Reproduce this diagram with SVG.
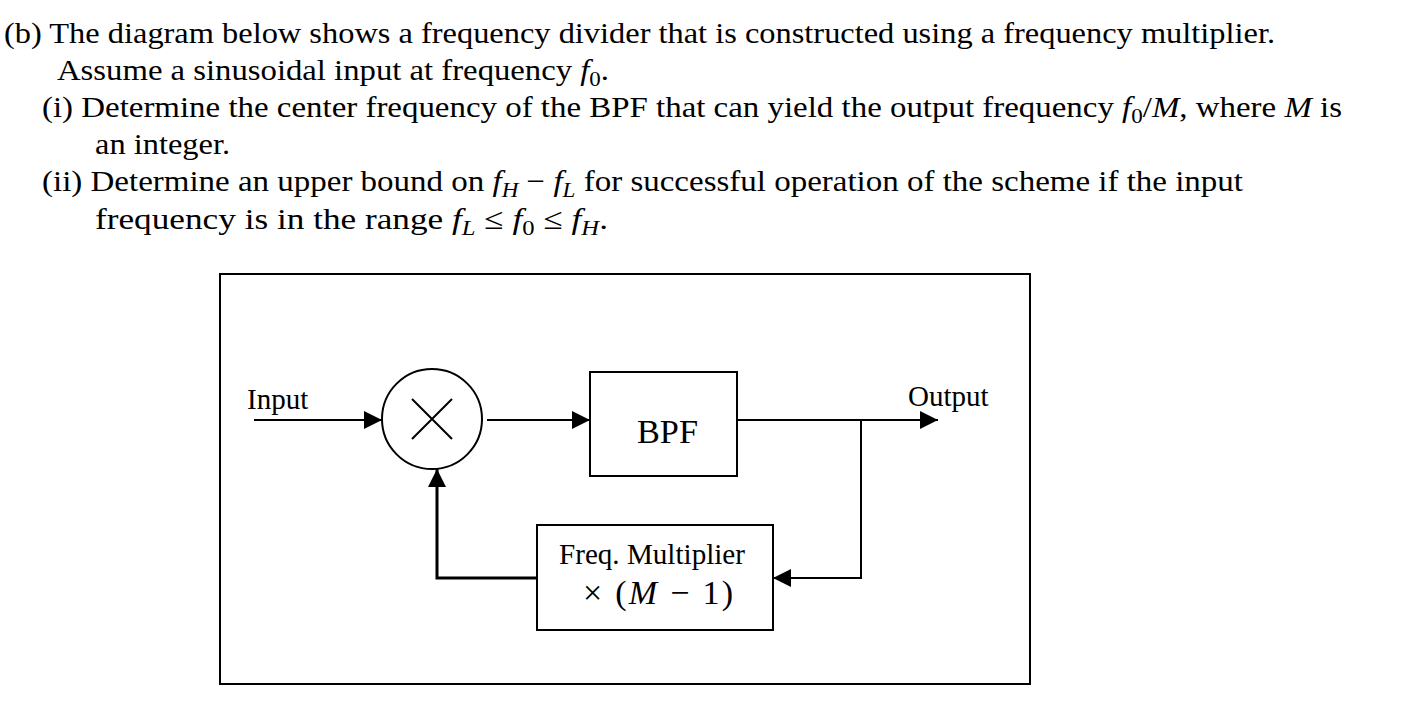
<svg xmlns="http://www.w3.org/2000/svg" width="1401" height="706" viewBox="0 0 1401 706">
<style>
text{font-family:"Liberation Serif","Times New Roman",serif;fill:#000}
.q{font-size:30px}
.i{font-style:italic}
.d{font-size:29px}
.ln{stroke:#000;stroke-width:2;fill:none}
.bx{stroke:#000;stroke-width:2;fill:#fff}
</style>
<defs>
<marker id="ah" viewBox="0 0 10 10" refX="10" refY="5" markerWidth="18" markerHeight="18" markerUnits="userSpaceOnUse" orient="auto"><path d="M0,0L10,5L0,10z" fill="#000"/></marker>
</defs>
<rect width="1401" height="706" fill="#fff"/>
<g id="question">
<text class="q" x="4" y="43" textLength="1271" lengthAdjust="spacingAndGlyphs">(b) The diagram below shows a frequency divider that is constructed using a frequency multiplier.</text>
<text class="q" x="57" y="80" textLength="552" lengthAdjust="spacingAndGlyphs">Assume a sinusoidal input at frequency <tspan class="i">f</tspan><tspan font-size="21" dy="6">0</tspan><tspan dy="-6">.</tspan></text>
<text class="q" x="42" y="117" textLength="1300" lengthAdjust="spacingAndGlyphs">(i) Determine the center frequency of the BPF that can yield the output frequency <tspan class="i">f</tspan><tspan font-size="21" dy="6">0</tspan><tspan dy="-6">/</tspan><tspan class="i">M</tspan>, where <tspan class="i">M</tspan> is</text>
<text class="q" x="95" y="154" textLength="135" lengthAdjust="spacingAndGlyphs">an integer.</text>
<text class="q" x="42" y="191" textLength="1201" lengthAdjust="spacingAndGlyphs">(ii) Determine an upper bound on  <tspan class="i">f</tspan><tspan class="i" font-size="21" dy="6">H</tspan><tspan dy="-6"> − </tspan><tspan class="i">f</tspan><tspan class="i" font-size="21" dy="6">L</tspan><tspan dy="-6"> for successful operation of the scheme if the input</tspan></text>
<text class="q" x="95" y="229" textLength="513" lengthAdjust="spacingAndGlyphs">frequency is in the range  <tspan class="i">f</tspan><tspan class="i" font-size="21" dy="6">L</tspan><tspan dy="-6"> ≤ </tspan><tspan class="i">f</tspan><tspan font-size="21" dy="6">0</tspan><tspan dy="-6"> ≤ </tspan><tspan class="i">f</tspan><tspan class="i" font-size="21" dy="6">H</tspan><tspan dy="-6">.</tspan></text>
</g>
<rect x="220" y="274" width="810" height="410" class="ln"/>
<g id="connectors">
<line x1="254" y1="420" x2="382" y2="420" class="ln" marker-end="url(#ah)"/>
<line x1="487" y1="420" x2="590" y2="420" class="ln" marker-end="url(#ah)"/>
<line x1="737" y1="420" x2="938" y2="420" class="ln" marker-end="url(#ah)"/>
<polyline points="861,420 861,578 773,578" class="ln" marker-end="url(#ah)"/>
<polyline points="537,578 437,578 437,469" stroke="#000" stroke-width="3" fill="none" marker-end="url(#ah)"/>
</g>
<g id="input-label"><text class="d" x="247" y="409">Input</text></g>
<g id="output-label"><text class="d" x="908" y="406">Output</text></g>
<g id="mixer">
<circle cx="432" cy="419" r="50" class="bx"/>
<path d="M412,399L452,439M452,399L412,439" class="ln"/>
</g>
<g id="bpf">
<rect x="590" y="372" width="147" height="104" class="bx"/>
<text x="637" y="443" font-size="34" textLength="61" lengthAdjust="spacingAndGlyphs">BPF</text>
</g>
<g id="multiplier">
<rect x="537" y="525" width="236" height="105" class="bx"/>
<text x="559" y="564" font-size="29" textLength="186" lengthAdjust="spacingAndGlyphs">Freq. Multiplier</text>
<text x="583" y="604" font-size="34" textLength="150" lengthAdjust="spacing">× (<tspan class="i">M</tspan> − 1)</text>
</g>
</svg>
